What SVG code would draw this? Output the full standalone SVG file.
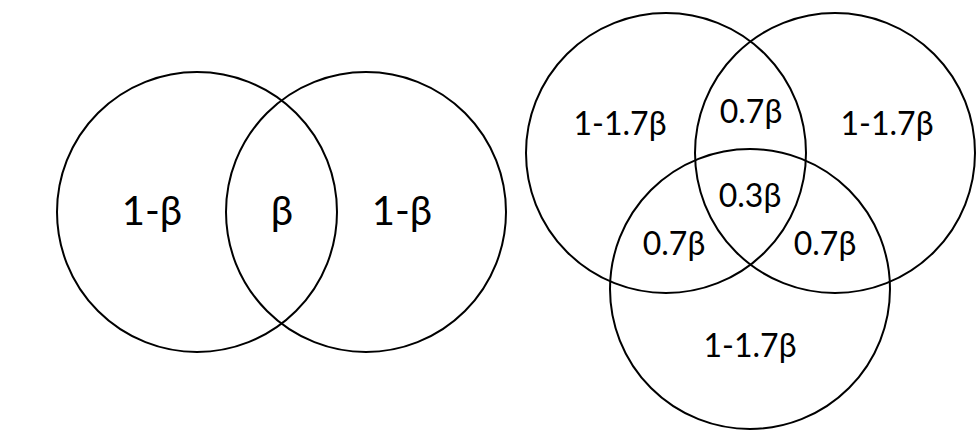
<svg xmlns="http://www.w3.org/2000/svg" width="979" height="431" viewBox="0 0 979 431">
<style>
.c{fill:none;stroke:#000;stroke-width:2}
.big{font-family:Lato,"Open Sans","Liberation Sans",sans-serif;font-size:40px;fill:#000;text-anchor:middle}
.sm{font-family:Lato,"Open Sans","Liberation Sans",sans-serif;font-size:32px;fill:#000;text-anchor:middle}
</style>
<rect width="979" height="431" fill="#fff"/>
<g id="venn2">
<g id="setA"><circle class="c" cx="197" cy="212" r="140"/></g>
<g id="setB"><circle class="c" cx="366" cy="212" r="140"/></g>
<text class="big" x="152" y="225">1-β</text>
<text class="big" x="282" y="225">β</text>
<text class="big" x="402" y="225">1-β</text>
</g>
<g id="venn3">
<g id="setC1"><circle class="c" cx="666" cy="153" r="140"/></g>
<g id="setC2"><circle class="c" cx="835" cy="153" r="140"/></g>
<g id="setC3"><circle class="c" cx="750" cy="289" r="140"/></g>
<text class="sm" x="620" y="135">1-1.7β</text>
<text class="sm" x="751" y="123">0.7β</text>
<text class="sm" x="887" y="135">1-1.7β</text>
<text class="sm" x="750" y="207">0.3β</text>
<text class="sm" x="674" y="255">0.7β</text>
<text class="sm" x="825" y="255">0.7β</text>
<text class="sm" x="750" y="357">1-1.7β</text>
</g>
<g id="connectors"/>
</svg>
